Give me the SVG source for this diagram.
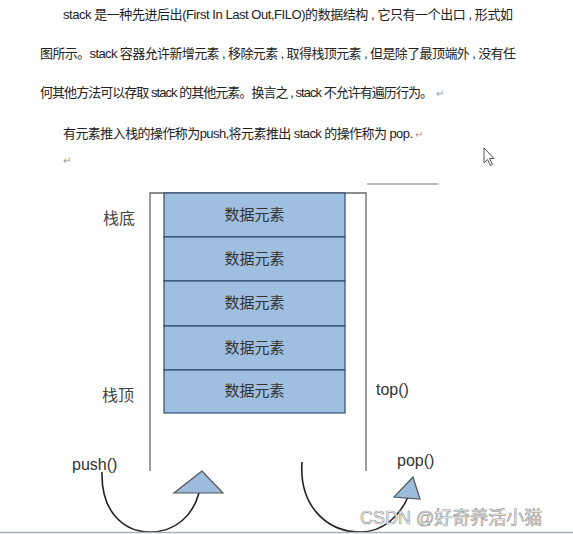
<svg xmlns="http://www.w3.org/2000/svg" width="573" height="534" viewBox="0 0 573 534">
<style>
.para{font-family:"Liberation Sans","Noto Sans CJK SC",sans-serif;font-size:13px;fill:#222}
.mark{font-family:"Liberation Sans","Noto Sans CJK SC",sans-serif;font-size:10px;fill:#999}
.cell rect{fill:#9fbfe0;stroke:#2f4d70;stroke-width:1.2}
.cell text{font-family:"Noto Sans CJK SC",sans-serif;font-size:15px;fill:#333;text-anchor:middle}
.lbl{font-family:"Noto Sans CJK SC",sans-serif;font-size:16px;fill:#444}
.fn{font-family:"Liberation Sans","Noto Sans",sans-serif;font-size:16px;fill:#333}
.tri{fill:#9dbbdc;stroke:#555;stroke-width:1.2;stroke-linejoin:miter}
.arc{fill:none;stroke:#222;stroke-width:1.6}
</style>
<rect width="573" height="534" fill="#ffffff"/>
<g id="paragraph">
<text class="para" x="63" y="19" textLength="450" lengthAdjust="spacing">stack 是一种先进后出(First In Last Out,FILO)的数据结构 , 它只有一个出口 , 形式如</text>
<text class="para" x="40" y="58" textLength="476" lengthAdjust="spacing">图所示。stack 容器允许新增元素 , 移除元素 , 取得栈顶元素 , 但是除了最顶端外 , 没有任</text>
<text class="para" x="40" y="97" textLength="393" lengthAdjust="spacing">何其他方法可以存取 stack 的其他元素。换言之 , stack 不允许有遍历行为。</text>
<text class="mark" x="436" y="97">↵</text>
<text class="para" x="63" y="138" textLength="350" lengthAdjust="spacing">有元素推入栈的操作称为push,将元素推出 stack 的操作称为 pop.</text>
<text class="mark" x="415" y="138">↵</text>
<text class="mark" x="63" y="164">↵</text>
</g>
<path d="M484,148 L484,163 L487.5,159.5 L490.5,165.5 L492.5,164.5 L489.5,158.5 L494,158.5 Z" fill="#fff" stroke="#555" stroke-width="1"/>
<line x1="367" y1="184" x2="438" y2="184" stroke="#bbb" stroke-width="2"/>
<g id="container">
<path d="M150,471 L150,193 L366,193 L366,471" fill="none" stroke="#666" stroke-width="1.3"/>
</g>
<g id="cell1" class="cell"><rect x="164" y="193" width="181" height="44"/><text x="254.5" y="220">数据元素</text></g>
<g id="cell2" class="cell"><rect x="164" y="237" width="181" height="44"/><text x="254.5" y="264">数据元素</text></g>
<g id="cell3" class="cell"><rect x="164" y="281" width="181" height="45"/><text x="254.5" y="308">数据元素</text></g>
<g id="cell4" class="cell"><rect x="164" y="326" width="181" height="44"/><text x="254.5" y="353">数据元素</text></g>
<g id="cell5" class="cell"><rect x="164" y="370" width="181" height="43"/><text x="254.5" y="396">数据元素</text></g>
<g id="label-bottom"><text class="lbl" x="103" y="224">栈底</text></g>
<g id="label-top"><text class="lbl" x="102" y="401">栈顶</text></g>
<g id="top-fn"><text class="fn" x="376" y="395">top()</text></g>
<g id="push-fn"><text class="fn" x="72" y="470">push()</text></g>
<g id="pop-fn"><text class="fn" x="397" y="466">pop()</text></g>
<g id="connectors">
<path class="arc" d="M102,472 C101,512 124,532 150,532 C176,532 193,515 199,493"/>
<path class="arc" d="M302,462 C299,505 326,532 360,532 C384,532 400,515 408,497"/>
</g>
<g id="push-arrow"><polygon class="tri" points="202,471 174,493 223,493"/></g>
<g id="pop-arrow"><polygon class="tri" points="413,477 394,497 420,499"/></g>
<line x1="0" y1="532.5" x2="573" y2="532.5" stroke="#a8b0b8" stroke-width="1.5"/>
<text x="360" y="524" font-family="Liberation Sans,Noto Sans CJK SC,sans-serif" font-size="18" fill="#ffffff" stroke="#999999" stroke-width="0.7">CSDN @好奇养活小猫</text>
</svg>
